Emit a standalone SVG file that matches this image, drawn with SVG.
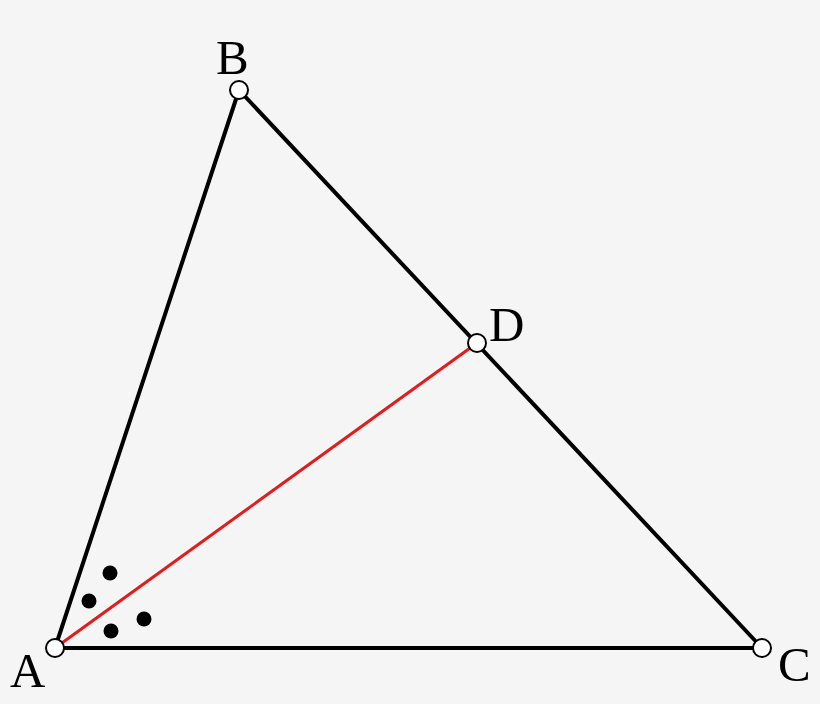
<svg xmlns="http://www.w3.org/2000/svg" width="820" height="704" viewBox="0 0 820 704">
<style>
.edge{stroke:#000;stroke-width:4;fill:none;stroke-linecap:round}
.bis{stroke:#e31b1b;stroke-width:3;fill:none}
.pt{fill:#fff;stroke:#000;stroke-width:2}
.dot{fill:#000}
.lbl{font-family:"Liberation Serif","Times New Roman",serif;font-size:49px;fill:#000}
</style>
<rect width="820" height="704" fill="#f5f5f5"/>
<g id="connectors">
<line class="edge" x1="55" y1="648" x2="239" y2="90"/>
<line class="edge" x1="239" y1="90" x2="762" y2="648"/>
<line class="edge" x1="55" y1="648" x2="762" y2="648"/>
<line class="bis" x1="55" y1="648" x2="477" y2="343"/>
</g>
<g id="angle-marks">
<circle class="dot" cx="110" cy="573" r="7.5"/>
<circle class="dot" cx="89" cy="601" r="7.5"/>
<circle class="dot" cx="111" cy="631" r="7.5"/>
<circle class="dot" cx="144" cy="619" r="7.5"/>
</g>
<g id="A"><circle class="pt" cx="55" cy="648" r="9"/><text class="lbl" x="10" y="687">A</text></g>
<g id="B"><circle class="pt" cx="239" cy="90" r="9"/><text class="lbl" x="216" y="74">B</text></g>
<g id="C"><circle class="pt" cx="762" cy="648" r="9"/><text class="lbl" x="778" y="681">C</text></g>
<g id="D"><circle class="pt" cx="477" cy="343" r="9"/><text class="lbl" x="489" y="341">D</text></g>
</svg>
